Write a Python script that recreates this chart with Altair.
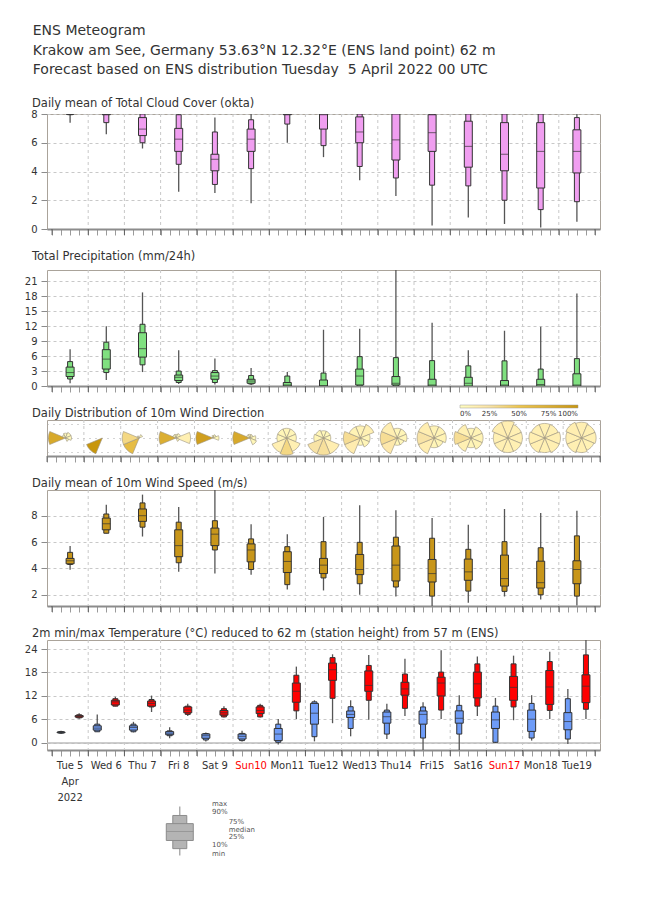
import altair as alt
import pandas as pd

days = ["Tue 5", "Wed 6", "Thu 7", "Fri 8", "Sat 9", "Sun10", "Mon11", "Tue12",
        "Wed13", "Thu14", "Fri15", "Sat16", "Sun17", "Mon18", "Tue19"]
month_year = "Apr\n2022"
sunday_idx = [5, 12]

cloud_min = [7.4, 6.6, 5.6, 2.6, 2.5, 1.8, 6.0, 5.0, 3.4, 2.3, 0.25, 0.8, 0.35, 0.1, 0.5]
cloud_p10 = [7.95, 7.4, 6.0, 4.5, 3.1, 4.2, 7.3, 5.8, 4.35, 3.55, 3.05, 3.0, 2.0, 1.35, 1.9]
cloud_p25 = [8.0, 7.95, 6.5, 5.4, 4.05, 5.4, 7.95, 6.95, 6.0, 4.8, 5.4, 4.3, 4.05, 2.85, 3.9]
cloud_med = [8.0, 8.0, 6.95, 6.25, 4.85, 6.25, 8.0, 7.95, 6.75, 6.2, 6.7, 5.75, 5.2, 5.4, 5.4]
cloud_p75 = [8.0, 8.0, 7.75, 7.0, 5.2, 6.95, 8.0, 8.0, 7.8, 8.0, 7.95, 7.5, 7.4, 7.4, 6.9]
cloud_p90 = [8.0, 8.0, 8.0, 7.95, 6.75, 7.6, 8.0, 8.0, 8.0, 8.0, 8.0, 8.0, 8.0, 8.0, 7.75]
cloud_max = [8.0, 8.0, 8.0, 8.0, 7.75, 8.0, 8.0, 8.0, 8.0, 8.0, 8.0, 8.0, 8.0, 8.0, 8.0]

prec_min = [0.55, 1.2, 2.8, 0.4, 0.3, 0.2, 0, 0, 0, 0, 0, 0, 0, 0, 0]
prec_p10 = [1.4, 2.7, 4.25, 0.7, 0.7, 0.4, 0, 0, 0, 0, 0, 0, 0, 0, 0]
prec_p25 = [1.9, 3.4, 5.8, 1.1, 1.35, 0.55, 0, 0, 0.2, 0.2, 0, 0, 0, 0, 0]
prec_med = [2.7, 5.4, 7.5, 1.75, 2.0, 1.0, 0.2, 0.05, 2.0, 0.55, 0.2, 0.55, 0.2, 0.3, 0.2]
prec_p75 = [3.8, 7.3, 10.7, 2.2, 2.7, 1.35, 0.7, 1.2, 3.4, 1.9, 1.35, 1.75, 1.1, 1.35, 2.45]
prec_p90 = [4.9, 8.8, 12.4, 3.0, 3.1, 2.1, 2.0, 2.6, 5.9, 5.7, 5.1, 4.05, 5.05, 3.4, 5.5]
prec_max = [7.4, 12.0, 18.8, 7.2, 5.5, 3.6, 2.8, 11.3, 11.5, 25.0, 12.7, 7.2, 11.1, 11.9, 18.6]

sectors = [0, 45, 90, 135, 180, 225, 270, 315]
wdir = [
    [0.04, 0.05, 0.05, 0.03, 0.00, 0.00, 0.80, 0.03],
    [0.00, 0.00, 0.00, 0.00, 0.00, 1.00, 0.00, 0.00],
    [0.00, 0.03, 0.00, 0.00, 0.00, 0.60, 0.35, 0.02],
    [0.03, 0.04, 0.12, 0.03, 0.00, 0.00, 0.75, 0.03],
    [0.02, 0.03, 0.05, 0.00, 0.00, 0.00, 0.90, 0.00],
    [0.03, 0.03, 0.05, 0.06, 0.00, 0.00, 0.80, 0.03],
    [0.08, 0.08, 0.08, 0.12, 0.35, 0.13, 0.08, 0.08],
    [0.06, 0.06, 0.06, 0.14, 0.28, 0.25, 0.08, 0.07],
    [0.10, 0.12, 0.08, 0.08, 0.06, 0.16, 0.30, 0.10],
    [0.08, 0.08, 0.08, 0.06, 0.06, 0.20, 0.30, 0.14],
    [0.10, 0.10, 0.10, 0.08, 0.08, 0.15, 0.25, 0.14],
    [0.08, 0.10, 0.10, 0.10, 0.08, 0.12, 0.30, 0.12],
    [0.14, 0.12, 0.12, 0.12, 0.12, 0.12, 0.12, 0.14],
    [0.12, 0.12, 0.13, 0.13, 0.12, 0.13, 0.13, 0.12],
    [0.13, 0.12, 0.12, 0.11, 0.12, 0.13, 0.13, 0.14],
]

ws_min = [3.9, 6.67, 6.42, 3.74, 3.61, 3.53, 2.41, 2.33, 2.0, 1.87, 1.0, 1.39, 1.87, 1.64, 1.18]
ws_p10 = [4.3, 6.67, 7.13, 4.43, 5.4, 3.92, 2.77, 3.28, 2.84, 2.59, 1.9, 2.28, 2.26, 2.0, 1.9]
ws_p25 = [4.35, 6.93, 7.57, 4.89, 5.73, 4.5, 3.69, 3.61, 3.53, 3.05, 2.97, 3.1, 2.66, 2.51, 2.84]
ws_med = [4.58, 7.39, 8.0, 5.73, 6.6, 5.4, 4.53, 4.25, 3.92, 4.25, 3.61, 3.74, 3.23, 2.92, 3.92]
ws_p75 = [4.76, 7.82, 8.51, 6.93, 7.06, 5.86, 5.27, 4.76, 5.06, 5.7, 4.68, 4.71, 5.01, 4.55, 4.58]
ws_p90 = [5.22, 8.13, 8.97, 7.51, 7.62, 6.24, 5.65, 6.03, 5.98, 6.37, 6.29, 5.45, 6.03, 5.57, 6.47]
ws_max = [5.7, 8.84, 9.6, 8.66, 10.2, 7.36, 6.6, 7.9, 8.79, 8.41, 7.82, 7.31, 8.51, 8.2, 8.38]

tn_min = [2.3, 2.86, 2.7, 1.2, 0.4, 0.34, -0.42, 0.4, 1.7, 1.0, -2.0, -2.0, 0.0, 0.6, -0.25]
tn_p10 = [2.5, 2.86, 2.86, 1.85, 0.76, 0.6, 0.17, 1.6, 3.7, 2.27, 1.26, 2.27, 0.17, 1.26, 1.0]
tn_p25 = [2.6, 3.28, 3.28, 2.1, 1.2, 1.0, 0.6, 4.8, 6.5, 5.05, 4.8, 5.05, 3.7, 2.95, 3.37]
tn_med = [2.7, 3.79, 3.96, 2.5, 1.85, 1.7, 2.27, 7.6, 7.3, 6.7, 7.3, 6.3, 5.9, 6.06, 5.47]
tn_p75 = [2.8, 4.38, 4.38, 2.9, 2.3, 2.27, 3.7, 10.1, 8.17, 7.9, 8.17, 8.2, 7.9, 8.4, 7.75]
tn_p90 = [2.9, 4.8, 4.8, 3.1, 2.4, 2.44, 4.8, 10.5, 9.26, 8.4, 9.2, 9.6, 9.4, 10.1, 11.3]
tn_max = [3.1, 7.3, 5.4, 4.0, 2.7, 3.1, 6.1, 10.9, 10.9, 10.0, 10.4, 12.2, 11.5, 12.2, 13.8]

tx_min = [6.2, 9.4, 7.9, 6.9, 6.5, 6.5, 6.1, 5.05, 5.9, 6.9, 6.1, 6.9, 5.8, 6.1, 6.1]
tx_p10 = [6.4, 9.4, 9.2, 7.3, 6.65, 6.65, 8.2, 11.4, 10.9, 8.84, 8.4, 9.4, 9.2, 8.3, 8.6]
tx_p25 = [6.6, 9.7, 9.4, 7.7, 7.1, 7.5, 10.4, 16.0, 13.2, 12.2, 12.0, 11.5, 10.9, 9.85, 10.3]
tx_med = [6.8, 10.5, 10.1, 8.4, 7.7, 8.3, 13.2, 18.7, 14.7, 13.8, 15.3, 15.1, 14.2, 14.3, 14.5]
tx_p75 = [7.0, 10.9, 10.7, 9.2, 8.3, 9.2, 15.3, 20.4, 18.4, 15.5, 16.8, 18.1, 17.0, 18.5, 17.4]
tx_p90 = [7.2, 11.3, 11.1, 9.4, 8.76, 9.6, 17.3, 21.8, 19.8, 17.6, 18.1, 20.2, 20.2, 20.8, 22.5]
tx_max = [7.6, 11.8, 12.1, 10.0, 9.4, 10.0, 19.5, 22.65, 22.5, 21.5, 23.7, 22.1, 22.3, 23.3, 27.0]

# explanation key (0-100 = bottom-top of the key glyph)
key_stats = dict(mn=4.4, p10=17, p25=32, med=48.5, p75=63, p90=78, mx=94.5)
key_labels = ["max", "90%", "75%", "median", "25%", "10%", "min"]
key_label_y = [100, 84.4, 66.9, 52.2, 37.5, 22.8, 6.3]
key_label_col = [0, 0, 1, 1, 1, 0, 0]

W = 553
FONT = "DejaVu Sans"
TXT = "#333333"
xscale = alt.Scale(domain=[0, 15], nice=False, zero=False)
tick_vals = [i * 0.25 for i in range(61)]


def xaxis():
    return alt.Axis(values=tick_vals, title=None, grid=False, tickSize=6, tickColor="#9a9a9a",
                    domainColor="#8c8c8c", domainWidth=2, labels=False)


def yaxis(vals):
    return alt.Axis(values=vals, title=None, grid=True, gridDash=[3, 3], gridColor="#c8c8c8",
                    tickSize=6, tickColor="#8c8c8c", domain=False, labelFontSize=10,
                    labelPadding=4, labelColor=TXT)


def ptitle(t, off):
    return alt.TitleParams(t, anchor="start", frame="group", dx=-15, fontSize=11.5,
                           fontWeight="normal", color=TXT, offset=off)


def stats_df(pos, mn, p10, p25, med, p75, p90, mx, kind="a"):
    return pd.DataFrame(dict(pos=pos, mn=mn, p10=p10, p25=p25, med=med, p75=p75,
                             p90=p90, mx=mx, kind=kind))


def day_grid():
    return alt.Chart(pd.DataFrame(dict(b=list(range(1, 15))))).mark_rule(
        color="#c8c8c8", strokeDash=[3, 3], strokeWidth=1).encode(
        x=alt.X("b:Q", scale=xscale, axis=xaxis()))


def day_ticks(h):
    return alt.Chart(pd.DataFrame(dict(b=list(range(0, 16))))).mark_tick(
        color="#444444", thickness=1, size=6).encode(
        x=alt.X("b:Q", scale=xscale, axis=xaxis()), y=alt.value(h + 3))


def box_layers(df, color_enc, ydomain, yvals, h, wide=8, narrow=5):
    X = alt.X("pos:Q", scale=xscale, axis=xaxis())
    ys = alt.Scale(domain=ydomain, nice=False, zero=False)

    def Y(f):
        return alt.Y(f + ":Q", scale=ys, axis=yaxis(yvals))
    base = alt.Chart(df)
    whisk = base.mark_rule(color="#555555", strokeWidth=1.3, clip=True).encode(
        x=X, y=Y("mn"), y2="mx:Q")
    nbox = base.mark_bar(size=narrow, stroke="#333333", strokeWidth=1, clip=True).encode(
        x=X, y=Y("p10"), y2="p90:Q", color=color_enc)
    wbox = base.mark_bar(size=wide, stroke="#333333", strokeWidth=1, clip=True).encode(
        x=X, y=Y("p25"), y2="p75:Q", color=color_enc)
    med = base.mark_tick(orient="horizontal", size=wide, thickness=1, color="#333333",
                         clip=True).encode(x=X, y=Y("med"))
    return [day_grid(), whisk, nbox, wbox, med, day_ticks(h)]


centres = [d + 0.5 for d in range(15)]

H_CLOUD, H_PREC, H_ROSE, H_WS, H_T = 115, 116, 36, 116, 110

cloud_df = stats_df(centres, cloud_min, cloud_p10, cloud_p25, cloud_med, cloud_p75, cloud_p90, cloud_max)
cloud = alt.layer(*box_layers(cloud_df, alt.value("#f09ef0"), [0, 8], [0, 2, 4, 6, 8], H_CLOUD)).properties(
    width=W, height=H_CLOUD, title=ptitle("Daily mean of Total Cloud Cover (okta)", 0))

prec_df = stats_df(centres, prec_min, prec_p10, prec_p25, prec_med, prec_p75, prec_p90, prec_max)
precip = alt.layer(*box_layers(prec_df, alt.value("#80e080"), [0, 23.3],
                               [0, 3, 6, 9, 12, 15, 18, 21], H_PREC)).properties(
    width=W, height=H_PREC, title=ptitle("Total Precipitation (mm/24h)", 7))

# wind roses: one wedge symbol per direction sector, rotated to the sector direction
rows = []
for d in range(15):
    for k, f in enumerate(wdir[d]):
        if f > 0:
            rows.append(dict(pos=d + 0.5, ang=sectors[k], frac=f, yc=0.5))
wd_df = pd.DataFrame(rows)
WEDGE = "M0,0L-0.383,-0.924A1,1,0,0,1,0.383,-0.924Z"
rose_pts = alt.Chart(wd_df).mark_point(shape=WEDGE, filled=True, stroke="#9c9480", strokeWidth=0.6,
                                        opacity=1).encode(
    x=alt.X("pos:Q", scale=xscale, axis=xaxis()),
    y=alt.Y("yc:Q", scale=alt.Scale(domain=[0, 1]),
            axis=alt.Axis(values=[0.12, 0.5, 0.88], grid=True, gridDash=[1, 5], gridColor="#a8a8a8",
                          labels=False, ticks=False, domain=False, title=None)),
    angle=alt.Angle("ang:Q", scale=alt.Scale(domain=[0, 360], range=[0, 360])),
    size=alt.Size("frac:Q", scale=alt.Scale(type="pow", exponent=2, domain=[0, 0.14], range=[0, 1156],
                                            clamp=True), legend=None),
    fill=alt.Fill("frac:Q",
                  scale=alt.Scale(domain=[0, 0.25, 0.5, 1], range=["#ffffff", "#f8e3a6", "#eec64e", "#c8960c"]),
                  legend=alt.Legend(orient="none", legendX=413, legendY=291, direction="horizontal",
                                    gradientLength=118, gradientThickness=3, title=None,
                                    values=[0, 0.25, 0.5, 0.75, 1], format="%", labelFontSize=7,
                                    labelColor=TXT, gradientStrokeColor="#999999",
                                    gradientStrokeWidth=0.5)),
)
rose = alt.layer(day_grid(), rose_pts, day_ticks(H_ROSE)).properties(
    width=W, height=H_ROSE, title=ptitle("Daily Distribution of 10m Wind Direction", 0))

ws_df = stats_df(centres, ws_min, ws_p10, ws_p25, ws_med, ws_p75, ws_p90, ws_max)
wspeed = alt.layer(*box_layers(ws_df, alt.value("#c8961a"), [1.15, 9.95], [2, 4, 6, 8], H_WS)).properties(
    width=W, height=H_WS, title=ptitle("Daily mean of 10m Wind Speed (m/s)", 0))

tn_df = stats_df([d + 0.25 for d in range(15)], tn_min, tn_p10, tn_p25, tn_med, tn_p75, tn_p90, tn_max, "min")
tx_df = stats_df([d + 0.75 for d in range(15)], tx_min, tx_p10, tx_p25, tx_med, tx_p75, tx_p90, tx_max, "max")
t_df = pd.concat([tn_df, tx_df], ignore_index=True)
tcolor = alt.Color("kind:N", scale=alt.Scale(domain=["min", "max"], range=["#6e9cf8", "#ff0000"]), legend=None)
tdomain = [-1.8, 26.3]
tys = alt.Scale(domain=tdomain, nice=False, zero=False)
zero_line = alt.Chart(pd.DataFrame({"z": [0]})).mark_rule(color="#bdbdbd", strokeWidth=1.5).encode(
    y=alt.Y("z:Q", scale=tys, axis=yaxis([0, 6, 12, 18, 24])))

# day labels under the temperature panel (first one carries month and year)
lab_text = [days[0] + "\n" + month_year] + days[1:]
lab_df = pd.DataFrame(dict(pos=centres, lab=lab_text,
                           sun=[1 if i in sunday_idx else 0 for i in range(15)]))
day_labels = alt.Chart(lab_df).mark_text(baseline="top", fontSize=10, lineBreak="\n", lineHeight=16).encode(
    x=alt.X("pos:Q", scale=xscale, axis=xaxis()), y=alt.value(H_T + 11), text="lab:N",
    color=alt.Color("sun:N", scale=alt.Scale(domain=[0, 1], range=[TXT, "#ff0000"]), legend=None))

# explanation key drawn under the day labels, placed on the temperature scale below its domain
KEY_T0, KEY_DT = -29.36, 0.1389


def k2t(v):
    return KEY_T0 + v * KEY_DT


key_df = pd.DataFrame([dict(pos=3.53, **{k: k2t(v) for k, v in key_stats.items()})])
KX = alt.X("pos:Q", scale=xscale, axis=xaxis())


def KY(f):
    return alt.Y(f + ":Q", scale=tys, axis=yaxis([0, 6, 12, 18, 24]))


kb = alt.Chart(key_df)
k_wh = kb.mark_rule(color="#9a9a9a", strokeWidth=1.2).encode(x=KX, y=KY("mn"), y2="mx:Q")
k_nb = kb.mark_bar(size=14, fill="#b4b4b4", stroke="#8c8c8c", strokeWidth=1).encode(x=KX, y=KY("p10"), y2="p90:Q")
k_wb = kb.mark_bar(size=27, fill="#b4b4b4", stroke="#8c8c8c", strokeWidth=1).encode(x=KX, y=KY("p25"), y2="p75:Q")
k_md = kb.mark_tick(orient="horizontal", size=27, thickness=1, color="#8c8c8c").encode(x=KX, y=KY("med"))
key_txt_df = pd.DataFrame(dict(lab=key_labels, v=[k2t(v) for v in key_label_y],
                               pos=[4.42 if c == 0 else 4.88 for c in key_label_col]))
k_tx = alt.Chart(key_txt_df).mark_text(align="left", baseline="middle", fontSize=7, color="#555555").encode(
    x=KX, y=KY("v"), text="lab:N")

temp = alt.layer(zero_line, *box_layers(t_df, tcolor, tdomain, [0, 6, 12, 18, 24], H_T), day_labels,
                 k_wh, k_nb, k_wb, k_md, k_tx).resolve_scale(color="independent").properties(
    width=W, height=H_T,
    title=ptitle("2m min/max Temperature (°C) reduced to 62 m (station height) from 57 m (ENS)", 0))

header = ["ENS Meteogram",
          "Krakow am See, Germany 53.63°N 12.32°E (ENS land point) 62 m",
          "Forecast based on ENS distribution Tuesday\u00a0 5 April 2022 00 UTC"]

chart = alt.vconcat(cloud, precip, rose, wspeed, temp, spacing=14).properties(
    title=alt.TitleParams(header, anchor="start", fontSize=14, fontWeight="normal", color=TXT,
                          lineHeight=19.5, offset=20, dx=9),
    padding={"left": 15, "top": 16, "right": 5, "bottom": 5},
    background="white",
).configure(font=FONT).configure_view(stroke="#aaa39a", strokeWidth=1)

chart.save("out.html", embed_options={"renderer": "svg", "actions": False})
